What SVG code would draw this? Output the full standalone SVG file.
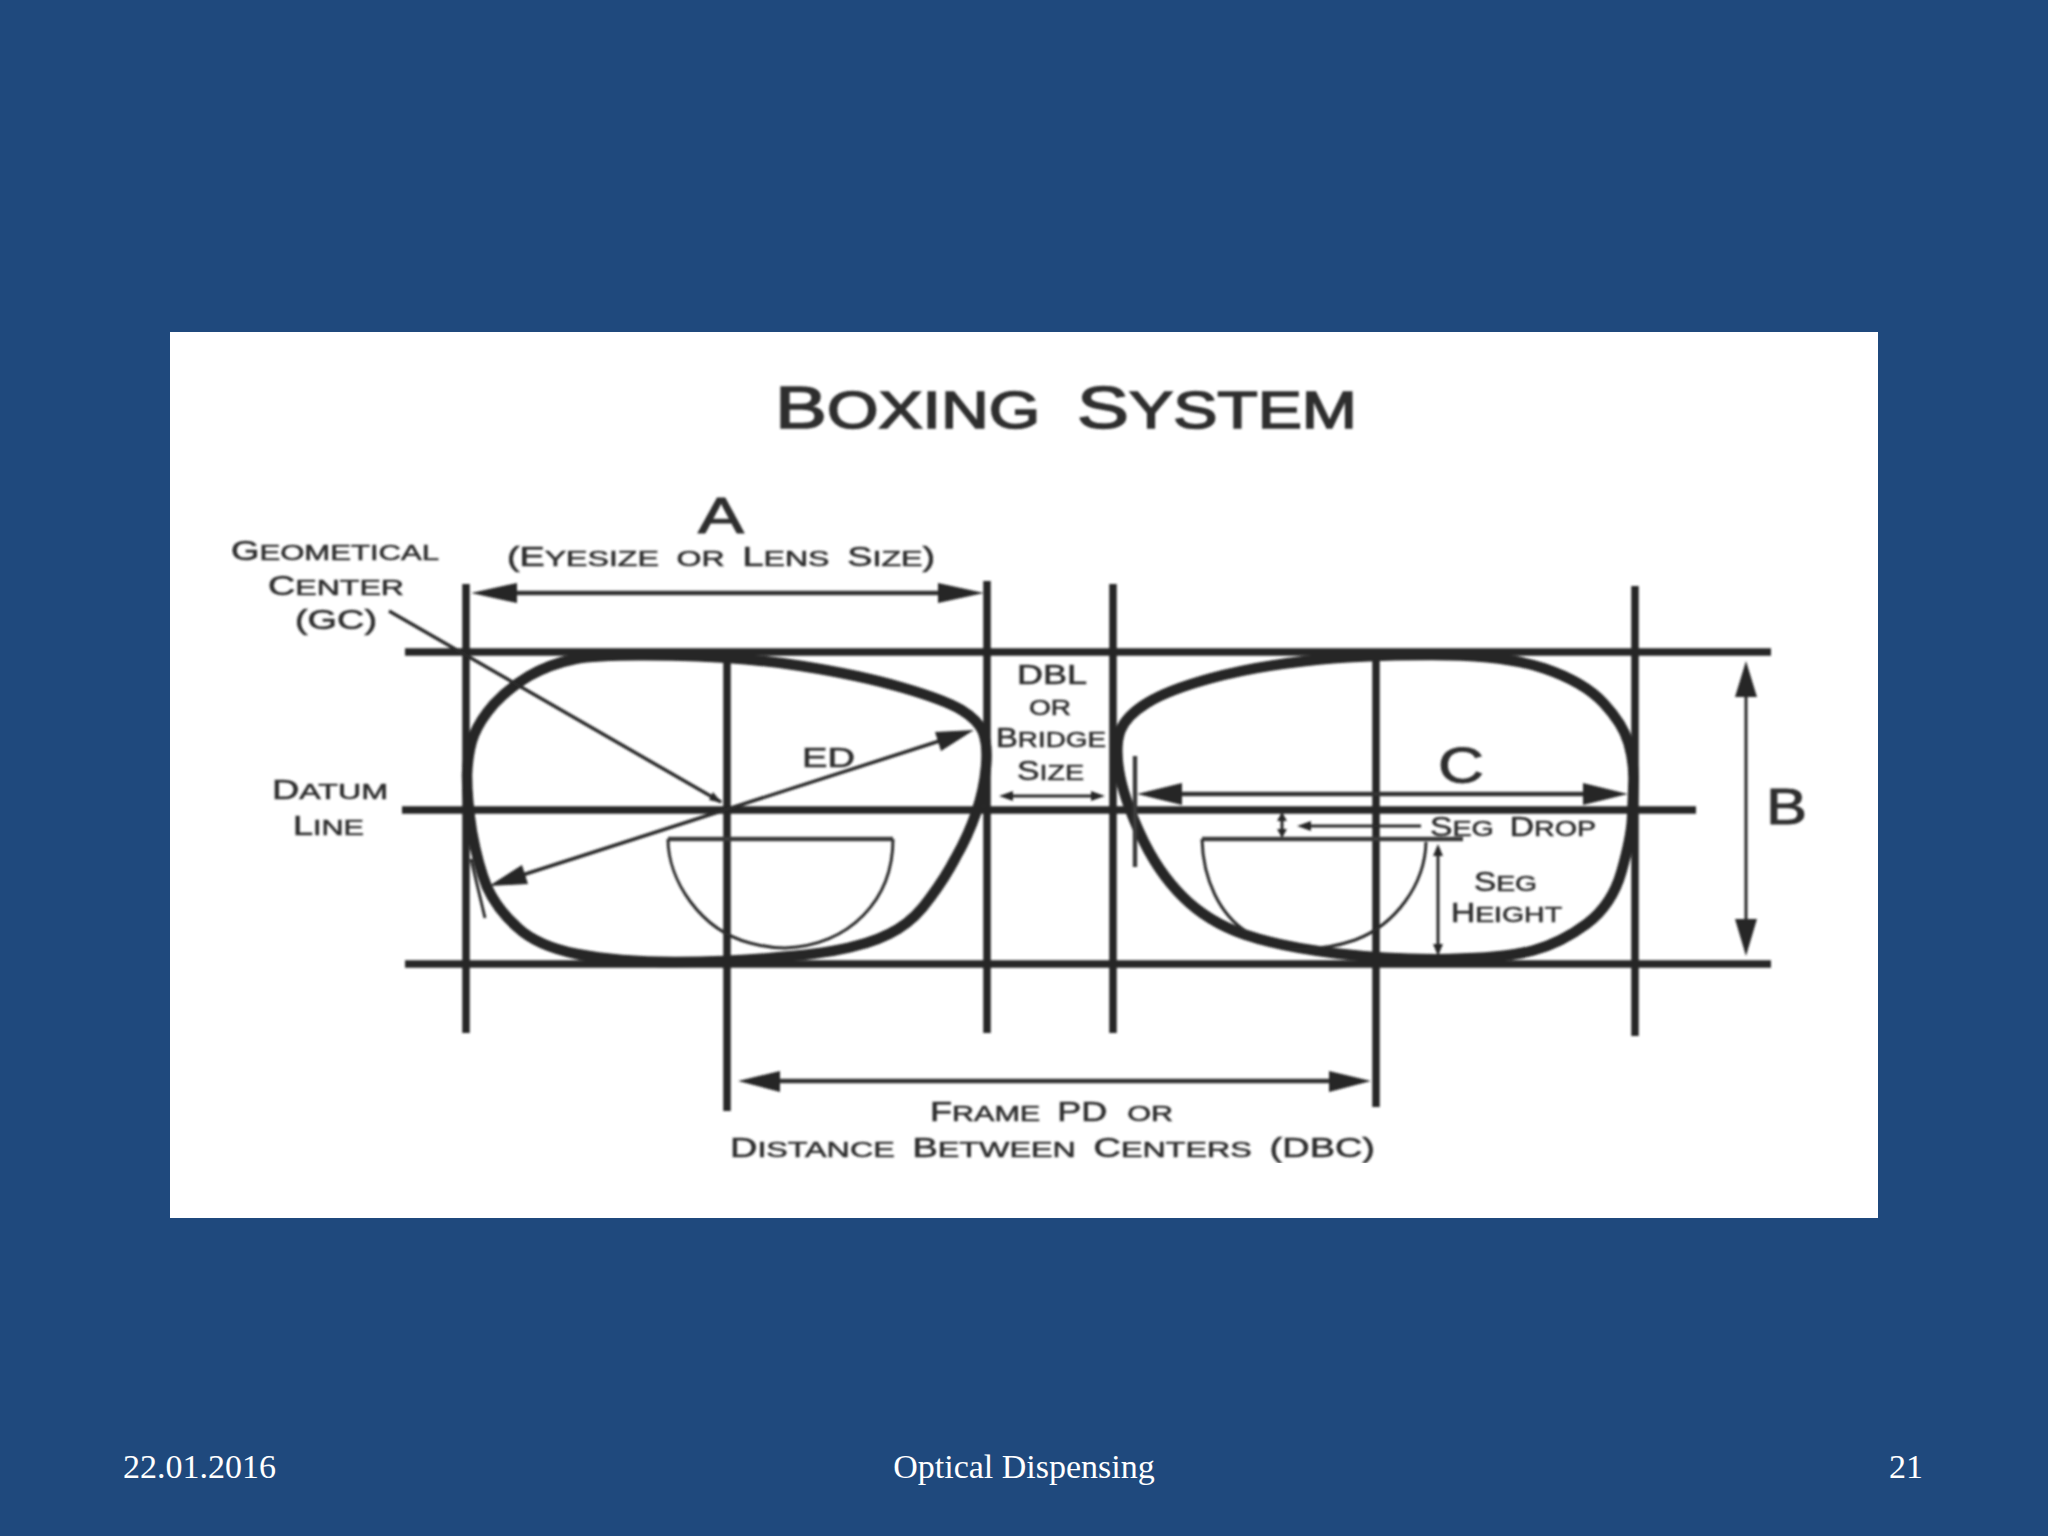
<svg xmlns="http://www.w3.org/2000/svg" width="2048" height="1536" viewBox="0 0 2048 1536">
<style>
.g{stroke:#262626;stroke-width:7.5;fill:none}
.f{stroke:#262626;stroke-width:10.5;fill:none;stroke-linejoin:round}
.t{stroke:#2b2b2b;stroke-width:3;fill:none}
.m{stroke:#3a3a3a;stroke-width:4.5;fill:none}
.a{stroke:#333;stroke-width:4.5;fill:none}
.h{fill:#262626;stroke:none}
text.l{font-family:"Liberation Sans",Arial,sans-serif;fill:#2e2e2e;font-size:27px;stroke:#2e2e2e;stroke-width:.6;white-space:pre}
text.b{font-size:50px;stroke-width:1}
text.tt{font-size:60px;stroke-width:1.6}
tspan.s{font-size:.85em}
text.ft{font-family:"Liberation Serif","Times New Roman",serif;font-size:34px;fill:#fff}
</style>
<defs><filter id="soft" x="0" y="0" width="100%" height="100%"><feGaussianBlur stdDeviation="0.8"/></filter></defs>
<rect width="2048" height="1536" fill="#1f497d"/>
<rect x="170" y="332" width="1708" height="886" fill="#fff"/>
<g filter="url(#soft)">
<g id="grid">
<path class="g" d="M405 652H1771M402 810H1696M405 964H1771"/>
<path class="g" d="M466 584V1033M987 581V1033M1113 584V1033M1635 586V1036M727 653V1111M1376 653V1107"/>
</g>
<g id="frame-left">
<path class="f" d="M672 655.5Q744 657 801.5 666Q859 675 902 687.5Q945 700 961.5 710Q978 720 983 732Q988 745 986 767Q984 790 976 813Q968 836 956 857Q945 878 930 898Q916 918 898 929Q880 940 855 946Q830 953 781 957Q733 962 675 962Q618 962 577 954Q537 946 517 927Q497 909 487 887Q478 865 472 832Q467 800 467 775Q468 750 474 735Q480 720 494 704Q509 688 529 676Q550 664 575 659Q600 654 672 655.5Z"/>
<path class="m" d="M668 839H893"/>
<path class="t" d="M668 839C668 880 700 930 750 943C765 947 775 948 785 948C850 945 893 900 893 839"/>
<path class="t" d="M471 859L485 918"/>
</g>
<g id="frame-right">
<path class="f" d="M1432 655Q1505 655 1544.5 668.5Q1584 682 1603.5 703Q1623 724 1628.5 743Q1634 762 1633.5 781Q1633 800 1632 819Q1631 838 1621.5 871.5Q1612 905 1586.5 924Q1561 943 1533 950.5Q1505 958 1449 959Q1393 960 1337 953.5Q1281 947 1244.5 934.5Q1208 922 1182.5 896.5Q1157 871 1140 833.5Q1123 796 1119 770.5Q1115 745 1120.5 730.5Q1126 716 1147 703Q1168 690 1210 678.5Q1252 667 1305.5 661Q1359 655 1432 655Z"/>
<path class="m" d="M1202 839H1463"/>
<path class="t" d="M1202 839C1203 880 1220 915 1247 932M1426 842C1425 885 1395 925 1355 940C1335 947 1310 950 1290 949"/>
<path class="m" d="M1135 756V867"/>
</g>
<g id="connectors">
<path class="a" d="M500 593H960"/><path class="h" d="M471 593L517 583V603ZM984 593L938 583V603Z"/>
<path class="a" d="M1165 794H1600"/><path class="h" d="M1137 794L1182 783V805ZM1628 794L1583 783V805Z"/>
<path class="t" d="M1005 796H1098"/><path class="h" d="M999 796L1013 791V801ZM1105 796L1091 791V801Z"/>
<path class="t" d="M1746 685V935"/><path class="h" d="M1746 661L1757 697H1735ZM1746 956L1757 919H1735Z"/>
<path class="a" d="M765 1081H1345"/><path class="h" d="M738 1081L780 1071V1092ZM1371 1081L1329 1071V1092Z"/>
<path class="t" d="M1438 850V950"/><path class="h" d="M1438 844L1443 856H1433ZM1438 956L1443 944H1433Z"/>
<path class="t" d="M1282 816V834"/><path class="h" d="M1282 812L1287 821H1277ZM1282 838L1287 829H1277Z"/>
<path class="t" d="M1305 826H1421"/><path class="h" d="M1297 826L1311 821V831Z"/>
<path class="t" d="M389 611L721 802" style="stroke-width:3.5"/>
<path class="h" d="M722 803L709 800L713 792Z"/>
<path class="t" d="M955 736L510 879" style="stroke-width:3.5"/>
<path class="h" d="M974 730L941 751L935 732ZM489 886L522 865L528 884Z"/>
</g>
<g id="labels">
<text class="l tt" x="775" y="428" textLength="582" lengthAdjust="spacingAndGlyphs">B<tspan class="s">OXING  </tspan>S<tspan class="s">YSTEM</tspan></text>
<text class="l b" x="698" y="533" textLength="46" lengthAdjust="spacingAndGlyphs">A</text>
<text class="l" x="507" y="566" textLength="428" lengthAdjust="spacingAndGlyphs">(E<tspan class="s">YESIZE  OR  </tspan>L<tspan class="s">ENS  </tspan>S<tspan class="s">IZE</tspan>)</text>
<text class="l" x="231" y="560" textLength="208" lengthAdjust="spacingAndGlyphs">G<tspan class="s">EOMETICAL</tspan></text>
<text class="l" x="268" y="595" textLength="136" lengthAdjust="spacingAndGlyphs">C<tspan class="s">ENTER</tspan></text>
<text class="l" x="295" y="629" textLength="82" lengthAdjust="spacingAndGlyphs">(GC)</text>
<text class="l" x="272" y="799" textLength="116" lengthAdjust="spacingAndGlyphs">D<tspan class="s">ATUM</tspan></text>
<text class="l" x="293" y="835" textLength="71" lengthAdjust="spacingAndGlyphs">L<tspan class="s">INE</tspan></text>
<text class="l" x="1017" y="684" textLength="70" lengthAdjust="spacingAndGlyphs">DBL</text>
<text class="l" x="1029" y="715" textLength="42" lengthAdjust="spacingAndGlyphs"><tspan class="s">OR</tspan></text>
<text class="l" x="996" y="747" textLength="110" lengthAdjust="spacingAndGlyphs">B<tspan class="s">RIDGE</tspan></text>
<text class="l" x="1017" y="780" textLength="67" lengthAdjust="spacingAndGlyphs">S<tspan class="s">IZE</tspan></text>
<text class="l" x="802" y="767" textLength="53" lengthAdjust="spacingAndGlyphs">ED</text>
<text class="l b" x="1438" y="783" textLength="46" lengthAdjust="spacingAndGlyphs">C</text>
<text class="l b" x="1766" y="824" textLength="41" lengthAdjust="spacingAndGlyphs">B</text>
<text class="l" x="1430" y="836" textLength="166" lengthAdjust="spacingAndGlyphs">S<tspan class="s">EG  </tspan>D<tspan class="s">ROP</tspan></text>
<text class="l" x="1474" y="891" textLength="63" lengthAdjust="spacingAndGlyphs">S<tspan class="s">EG</tspan></text>
<text class="l" x="1451" y="922" textLength="111" lengthAdjust="spacingAndGlyphs">H<tspan class="s">EIGHT</tspan></text>
<text class="l" x="930" y="1121" textLength="243" lengthAdjust="spacingAndGlyphs">F<tspan class="s">RAME  </tspan>PD  <tspan class="s">OR</tspan></text>
<text class="l" x="730" y="1157" textLength="645" lengthAdjust="spacingAndGlyphs">D<tspan class="s">ISTANCE  </tspan>B<tspan class="s">ETWEEN  </tspan>C<tspan class="s">ENTERS  </tspan>(DBC)</text>
</g>
</g>
<g id="footer">
<text class="ft" x="123" y="1478">22.01.2016</text>
<text class="ft" x="1024" y="1478" text-anchor="middle">Optical Dispensing</text>
<text class="ft" x="1923" y="1478" text-anchor="end">21</text>
</g>
</svg>
